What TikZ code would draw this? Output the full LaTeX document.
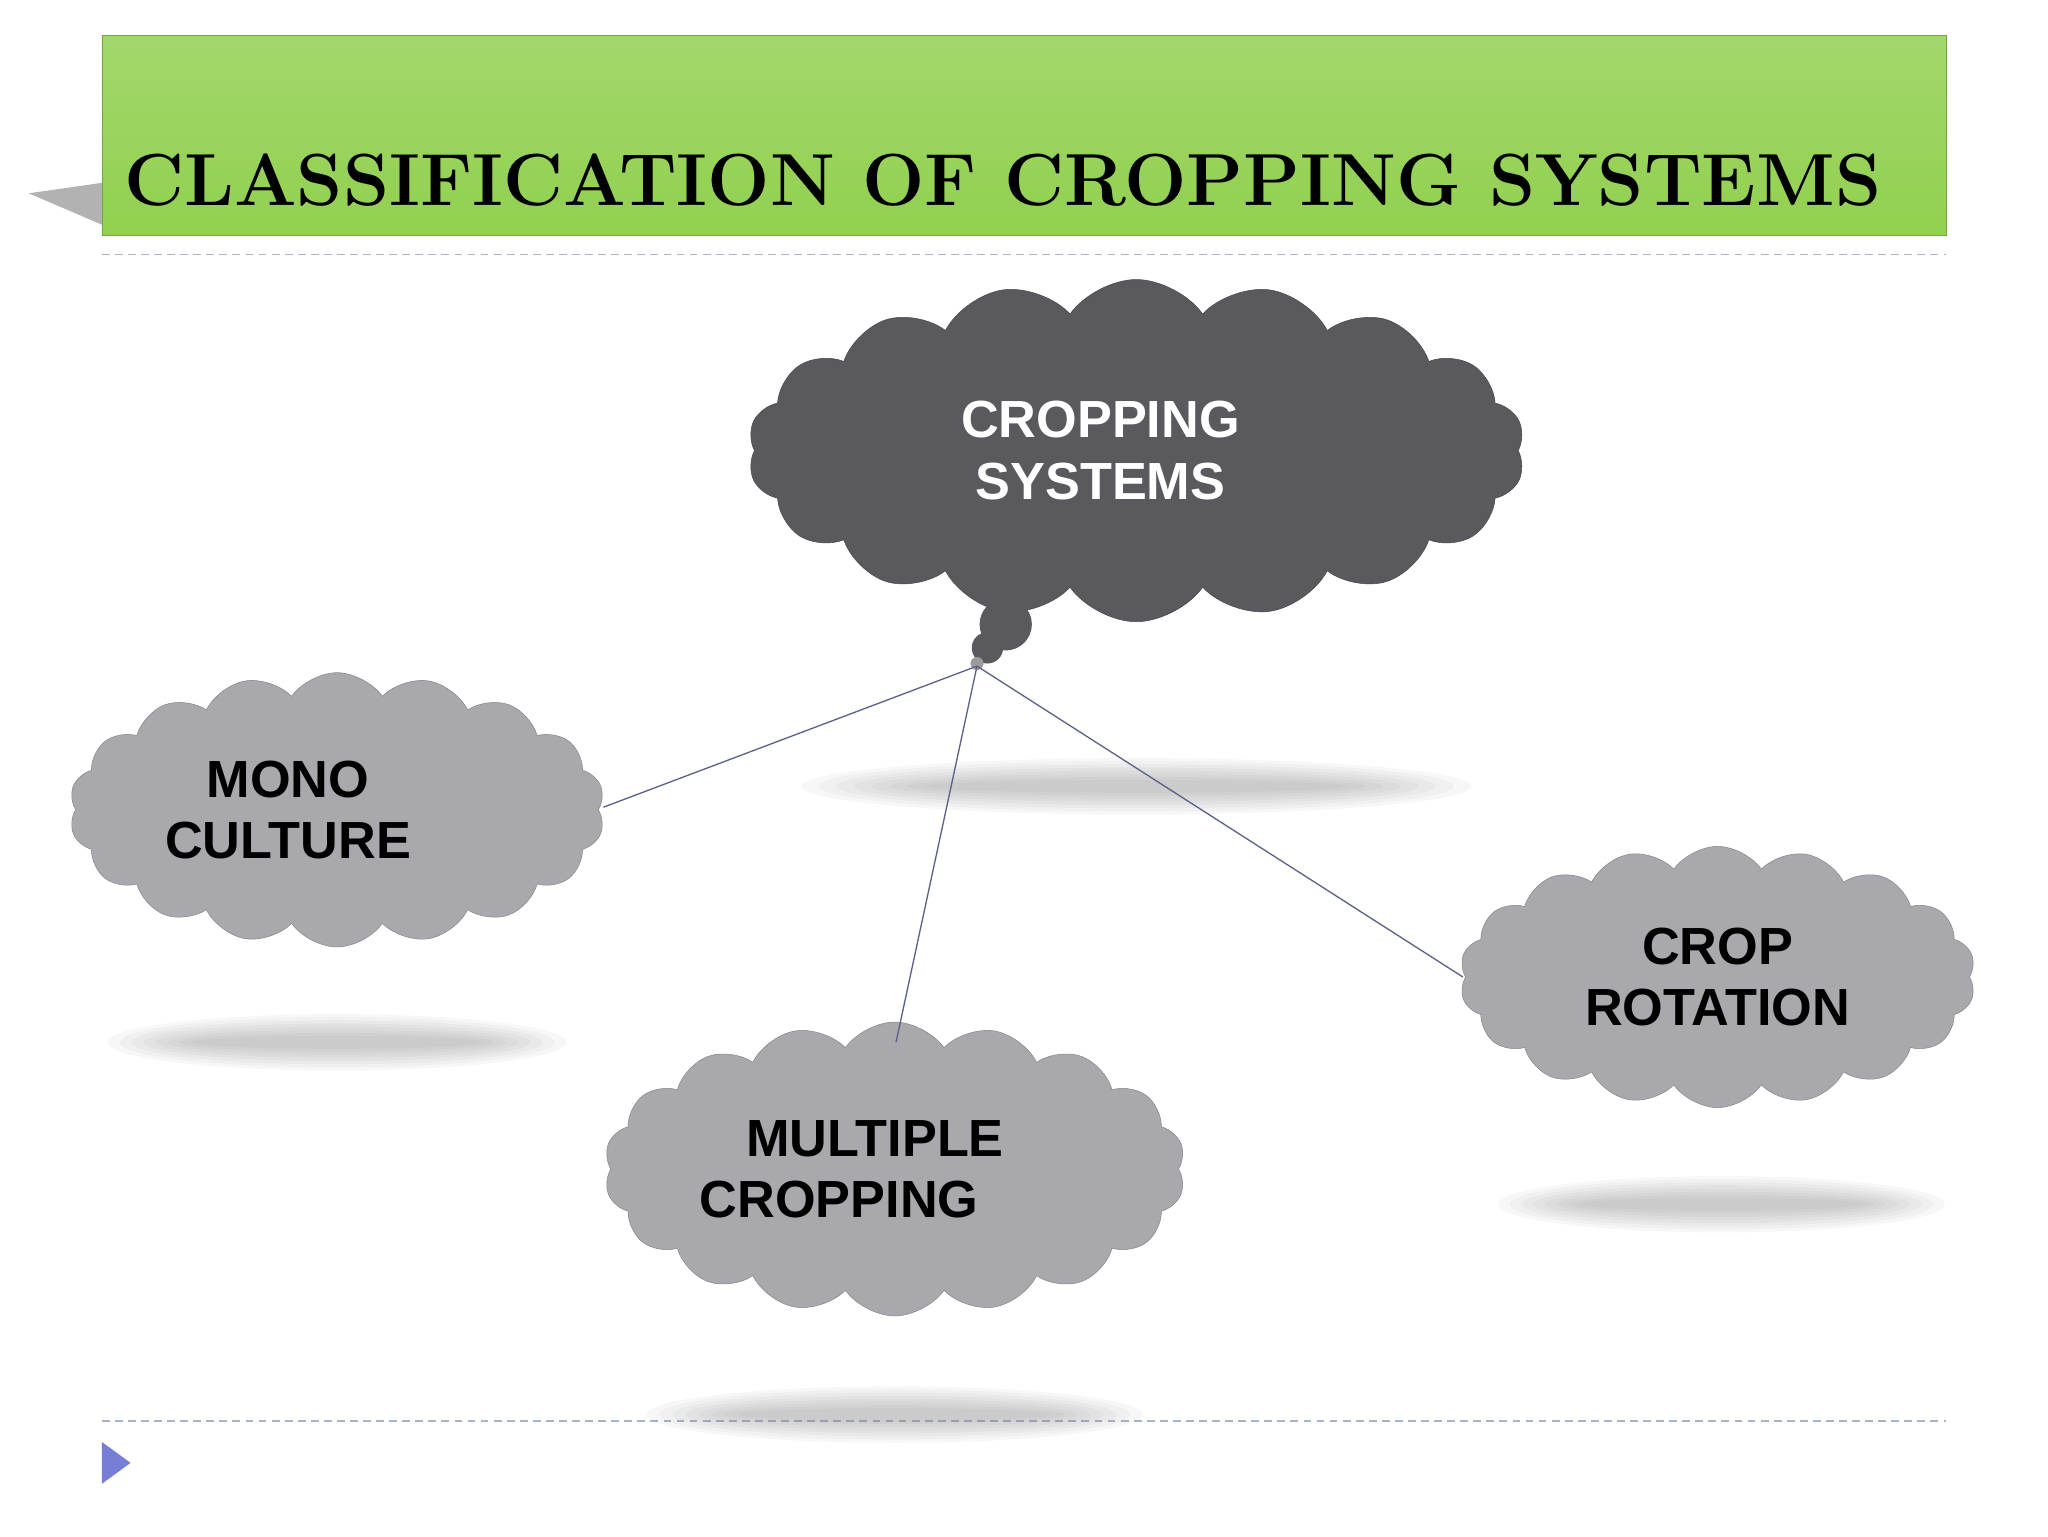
\documentclass[tikz,border=0pt]{standalone}
\usepackage{fontspec}
\newfontfamily\sansb{Liberation Sans}
\usetikzlibrary{shapes.symbols}
\definecolor{cdark}{HTML}{5A595E}
\definecolor{clight}{HTML}{A9A8AD}
\definecolor{titlegreen}{HTML}{92D050}
\definecolor{dashc}{HTML}{A8B4C8}
\definecolor{linec}{HTML}{5A6088}
\tikzset{
 cloudbox/.style={cloud, cloud puffs=18, cloud puff arc=110, cloud ignores aspect, draw=#1!80!black, fill=#1, inner sep=0pt, align=center, font=\sansb\bfseries\fontsize{40}{47}\selectfont},
 conn/.style={draw=linec, line width=1pt},
 dashln/.style={draw=dashc, dash pattern=on 6pt off 4pt, line width=1pt},
}
\newcommand{\softshadow}[3]{%
 \foreach \k in {1,...,8}{\fill[gray, opacity=0.06] (#1,#2) ellipse ({#3*(1-0.05*\k)} and {24-2.4*\k});}}
\begin{document}
\begin{tikzpicture}[x=1pt,y=-1pt]
\useasboundingbox (0,0) rectangle (1568,1176);
\fill[white] (0,0) rectangle (1568,1176);
% title bar
\fill[gray!60] (22,148) -- (78,140) -- (78,172) -- cycle;
\shade[top color=titlegreen!85!white, bottom color=titlegreen, draw=titlegreen!80!black] (78,27) rectangle (1490,180);
\node[anchor=base west, inner sep=0pt] (title) at (95,157) {\resizebox{1345pt}{!}{\bfseries\fontsize{60}{70}\selectfont CLASSIFICATION OF CROPPING SYSTEMS}};
\draw[dashln] (78,195) -- (1490,195);
\draw[dashln] (78,1088) -- (1490,1088);
\fill[dashc!70!blue] (78,1104) -- (78,1136) -- (100,1120) -- cycle;
% shadows
\softshadow{870}{602}{270}
\softshadow{258}{798}{185}
\softshadow{685}{1083}{200}
\softshadow{1318}{922}{180}
% clouds
\node[cloudbox=cdark, text=white, minimum width=595pt, minimum height=262pt] (top) at (870,345) {\hspace*{-55pt}CROPPING\\\hspace*{-55pt}SYSTEMS};
\fill[cdark] (770,478) circle (20);
\fill[cdark] (756,496) circle (12);
\fill[cdark!60] (748,508) circle (5);
\coordinate (hub) at (748,510);
\node[cloudbox=clight, minimum width=410pt, minimum height=210pt] (mono) at (258,620) {\hspace*{-75pt}MONO\\\hspace*{-75pt}CULTURE};
\node[cloudbox=clight, minimum width=445pt, minimum height=225pt] (mult) at (685,895) {\hspace*{-30pt}MULTIPLE\\\hspace*{-85pt}CROPPING};
\node[cloudbox=clight, minimum width=395pt, minimum height=200pt] (rot) at (1315,748) {CROP\\ROTATION};
\coordinate (m1) at (462,618);
\coordinate (m2) at (686,798);
\coordinate (m3) at (1120,748);
\draw[conn] (hub) -- (m1);
\draw[conn] (hub) -- (m2);
\draw[conn] (hub) -- (m3);
\end{tikzpicture}
\end{document}
